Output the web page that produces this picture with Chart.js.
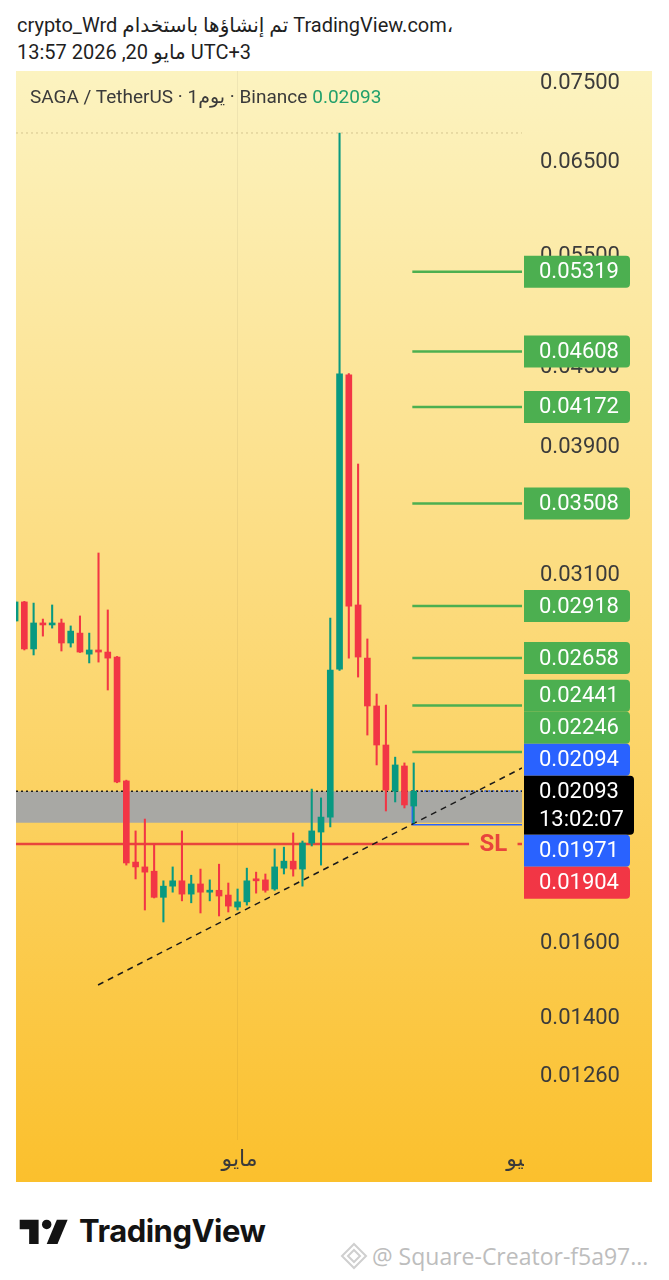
<!DOCTYPE html>
<html>
<head>
  <meta charset="utf-8">
  <title>SAGA / TetherUS</title>
  <script src="https://cdn.jsdelivr.net/npm/chart.js"></script>
  <style>
    body {
      margin: 0;
      width: 669px;
      height: 1280px;
      background: #fff;
      position: relative;
      overflow: hidden;
      font-family: Roboto, "DejaVu Sans", sans-serif;
    }
    .hdr {
      position: absolute;
      left: 17px;
      font-size: 20px;
      line-height: 24px;
      color: #1f1f1f;
      direction: ltr;
      white-space: nowrap;
    }
    #panel {
      position: absolute;
      left: 16px;
      top: 71px;
    }
    #legend {
      position: absolute;
      left: 30px;
      top: 86px;
      font-size: 19px;
      line-height: 22px;
      color: #3a3a3a;
      white-space: nowrap;
      direction: ltr;
      z-index: 2;
    }
    #legend .last { color: #22a06b; margin-left: 5px; }
    #brand {
      position: absolute;
      left: 19px;
      top: 1212px;
      display: flex;
      align-items: center;
    }
    #brand span {
      font-family: Inter, Roboto, sans-serif;
      font-weight: 700;
      font-size: 31px;
      letter-spacing: -0.5px;
      color: #131313;
      margin-left: 10px;
    }
    #wm {
      position: absolute;
      left: 340px;
      top: 1240px;
      display: flex;
      align-items: center;
      color: #bdbdbd;
      font-family: "Open Sans", sans-serif;
      font-size: 23px;
      white-space: nowrap;
    }
  </style>
</head>
<body>
  <div class="hdr" style="top:13px">crypto_Wrd تم إنشاؤها باستخدام TradingView.com،</div>
  <div class="hdr" style="top:40px">13:57 2026 ,20 مايو UTC+3</div>

  <canvas id="panel" width="636" height="1111"></canvas>
  <div id="legend">SAGA / TetherUS · 1يوم · Binance<span class="last">0.02093</span></div>

  <div id="brand">
    <svg width="50" height="27" viewBox="0 0 36 20">
      <path d="M14 20H7V9H0V2h14v18z" fill="#131313"/>
      <circle cx="20" cy="5.5" r="3.5" fill="#131313"/>
      <path d="M28 20h-8l7.5-18h8L28 20z" fill="#131313"/>
    </svg>
    <span>TradingView</span>
  </div>

  <div id="wm">
    <svg width="28" height="28" viewBox="0 0 28 28" style="margin-right:4px">
      <path d="M14 2 L26 14 L14 26 L2 14 Z" fill="none" stroke="#cfcfcf" stroke-width="2"/>
      <path d="M14 8 L20 14 L14 20 L8 14 Z" fill="none" stroke="#cfcfcf" stroke-width="2"/>
    </svg>
    <span>@ Square-Creator-f5a97...</span>
  </div>

  <script>
    // daily candles, index 0 = 7 Apr, index 24 = 1 May, index 43 = 20 May
    const opens = [
      0.02841, 0.02940, 0.02702, 0.02831, 0.02821, 0.02831, 0.02731, 0.02780, 0.02677, 0.02697,
      0.02687, 0.02663, 0.02132, 0.01843, 0.01827, 0.01813, 0.01730, 0.01765, 0.01782, 0.01740,
      0.01772, 0.01746, 0.01752, 0.01737, 0.01700, 0.01716, 0.01788, 0.01785, 0.01756, 0.01823,
      0.01846, 0.01820, 0.01907, 0.01945, 0.01998, 0.02606, 0.04419, 0.02924, 0.02658, 0.02439,
      0.02274, 0.02093, 0.02190, 0.02038
    ];
    const highs = [
      0.02946, 0.02943, 0.02934, 0.02851, 0.02924, 0.02851, 0.02816, 0.02867, 0.02780, 0.03210,
      0.02898, 0.02666, 0.02135, 0.01949, 0.01991, 0.01904, 0.01782, 0.01827, 0.01949, 0.01800,
      0.01820, 0.01785, 0.01836, 0.01775, 0.01756, 0.01823, 0.01810, 0.01804, 0.01887, 0.01893,
      0.01942, 0.01914, 0.02101, 0.02068, 0.02856, 0.06823, 0.04430, 0.03766, 0.02751, 0.02492,
      0.02443, 0.02225, 0.02202, 0.02202
    ];
    const lows = [
      0.02838, 0.02697, 0.02673, 0.02765, 0.02805, 0.02692, 0.02711, 0.02685, 0.02635, 0.02639,
      0.02510, 0.02125, 0.01833, 0.01788, 0.01691, 0.01728, 0.01655, 0.01746, 0.01719, 0.01713,
      0.01682, 0.01719, 0.01673, 0.01685, 0.01691, 0.01706, 0.01743, 0.01746, 0.01752, 0.01804,
      0.01797, 0.01765, 0.01897, 0.01833, 0.01963, 0.02600, 0.02658, 0.02569, 0.02315, 0.02194,
      0.02020, 0.02053, 0.02031, 0.01977
    ];
    const closes = [
      0.02940, 0.02702, 0.02831, 0.02821, 0.02831, 0.02731, 0.02790, 0.02687, 0.02697, 0.02687,
      0.02658, 0.02128, 0.01840, 0.01827, 0.01810, 0.01730, 0.01765, 0.01782, 0.01740, 0.01772,
      0.01746, 0.01752, 0.01734, 0.01703, 0.01716, 0.01782, 0.01782, 0.01752, 0.01827, 0.01846,
      0.01820, 0.01907, 0.01949, 0.01998, 0.02602, 0.04427, 0.02918, 0.02663, 0.02439, 0.02274,
      0.02097, 0.02194, 0.02042, 0.02093
    ];

    // price axis ticks (the ones between 0.031 and 0.016 are hidden behind the tags)
    const priceTicks = [0.075, 0.065, 0.055, 0.045, 0.039, 0.031, 0.016, 0.014, 0.0126];
    // month labels on the time axis
    const monthTicks = [24, 55];
    const monthLabels = ["مايو", "يونيو"];

    // drawn levels
    const targets = [0.05319, 0.04608, 0.04172, 0.03508, 0.02918, 0.02658, 0.02441, 0.02246];
    const lastPrice = 0.02093;
    const countdown = "13:02:07";
    const entry = 0.02094;
    const boxLow = 0.01971;
    const stopLoss = 0.01904;
    const zone = [0.01978, 0.02093];
    const spikeHigh = 0.06823;
    const trendFrom = [8.95, 0.01478];
    const trendTo = [54.68, 0.02182];
    const levelsStart = 42.85;

    const X_MIN = 0.1, X_MAX = 54.68;
    const Y_MIN = 0.01119, Y_MAX = 0.07626;
    const UP = "#089981", DOWN = "#f23645";
    const GREEN = "#4caf50", BLUE = "#2962ff", RED = "#f23645";

    const idx = opens.map((_, i) => i);
    const candleColors = idx.map(i => closes[i] >= opens[i] ? UP : DOWN);

    function hline(value, from, to) {
      return [{ x: from, y: value }, { x: to, y: value }];
    }

    const lineBase = { type: "line", pointRadius: 0, fill: false, tension: 0 };

    const datasets = [
      {
        type: "bar", label: "body", order: 0, grouped: false,
        data: idx.map(i => ({ x: i, y: [opens[i], closes[i]] })),
        backgroundColor: candleColors, barThickness: 6, minBarLength: 2
      },
      {
        type: "bar", label: "wick", order: 1, grouped: false,
        data: idx.map(i => ({ x: i, y: [lows[i], highs[i]] })),
        backgroundColor: candleColors, barThickness: 1.4
      },
      {
        ...lineBase, label: "trend", order: 2,
        data: [{ x: trendFrom[0], y: trendFrom[1] }, { x: trendTo[0], y: trendTo[1] }],
        borderColor: "#1a1a1a", borderWidth: 1.5, borderDash: [6, 5]
      },
      {
        ...lineBase, label: "last", order: 3,
        data: hline(lastPrice, X_MIN, X_MAX),
        borderColor: "#1a1a1a", borderWidth: 1.5, borderDash: [2, 3]
      },
      {
        ...lineBase, label: "SL", order: 4,
        data: [
          { x: X_MIN, y: stopLoss }, { x: 48.97, y: stopLoss }, { x: 49, y: null },
          { x: 54.2, y: stopLoss }, { x: X_MAX, y: stopLoss }
        ],
        borderColor: "#e8453c", borderWidth: 2.5, spanGaps: false
      },
      {
        ...lineBase, label: "box", order: 5,
        data: [{ x: levelsStart, y: entry }, { x: levelsStart, y: boxLow }, { x: X_MAX, y: boxLow }],
        borderColor: BLUE, borderWidth: 1.5
      },
      {
        ...lineBase, label: "boxTop", order: 5,
        data: hline(entry, levelsStart, X_MAX),
        borderColor: BLUE, borderWidth: 1.5, borderDash: [2, 2]
      },
      ...targets.map(t => ({
        ...lineBase, label: "target", order: 6,
        data: hline(t, levelsStart, X_MAX),
        borderColor: GREEN, borderWidth: 2.5
      })),
      {
        ...lineBase, label: "high", order: 7,
        data: hline(spikeHigh, X_MIN, X_MAX),
        borderColor: "rgba(140,120,70,0.35)", borderWidth: 1, borderDash: [2, 3]
      },
      {
        ...lineBase, label: "zone", order: 9,
        data: hline(zone[0], X_MIN, X_MAX),
        fill: { value: zone[1] },
        backgroundColor: "#a8a8a4", borderWidth: 0
      }
    ];

    const background = {
      id: "background",
      beforeDraw(chart) {
        const { ctx, width, height } = chart;
        const g = ctx.createLinearGradient(0, 0, 0, height);
        g.addColorStop(0, "#fcf3c0");
        g.addColorStop(0.45, "#fcdc80");
        g.addColorStop(1, "#fbc02d");
        ctx.save();
        ctx.fillStyle = g;
        ctx.fillRect(0, 0, width, height);
        ctx.restore();
      }
    };

    const timeLabels = {
      id: "timeLabels",
      afterDraw(chart) {
        const { ctx, chartArea, scales: { x } } = chart;
        ctx.save();
        ctx.beginPath();
        ctx.rect(0, chartArea.bottom, chartArea.right + 2, chart.height - chartArea.bottom);
        ctx.clip();
        ctx.fillStyle = "#3a3a3a";
        ctx.font = "22px 'DejaVu Sans', sans-serif";
        ctx.textAlign = "center";
        ctx.textBaseline = "middle";
        monthTicks.forEach((v, i) => {
          ctx.fillText(monthLabels[i], x.getPixelForValue(v) + 2, chartArea.bottom + 20);
        });
        ctx.restore();
      }
    };

    const slText = {
      id: "slText",
      afterDatasetsDraw(chart) {
        const { ctx, scales: { x, y } } = chart;
        ctx.save();
        ctx.fillStyle = "#e8453c";
        ctx.font = "bold 24px Roboto, sans-serif";
        ctx.textAlign = "center";
        ctx.textBaseline = "middle";
        ctx.fillText("SL", x.getPixelForValue(51.6), y.getPixelForValue(stopLoss) + 1);
        ctx.restore();
      }
    };

    // price tags on the right axis, pushed apart like TradingView does
    const tags = [
      ...targets.map(v => ({ value: v, text: v.toFixed(5), color: GREEN })),
      { value: entry, text: entry.toFixed(5), color: BLUE },
      { value: lastPrice, text: lastPrice.toFixed(5), sub: countdown, color: "#000" },
      { value: boxLow, text: boxLow.toFixed(5), color: BLUE },
      { value: stopLoss, text: stopLoss.toFixed(5), color: RED }
    ];

    const priceTags = {
      id: "priceTags",
      afterDraw(chart) {
        const { ctx, chartArea, scales: { y } } = chart;
        const H = 32, HB = 59;
        let groups = tags
          .map(t => {
            const h = t.sub ? HB : H;
            const top = y.getPixelForValue(t.value) - H / 2;
            return { items: [{ t, h, want: top + h / 2 }], top, h };
          })
          .sort((a, b) => a.top - b.top);

        let merged = true;
        while (merged) {
          merged = false;
          for (let i = 0; i < groups.length - 1; i++) {
            const a = groups[i], b = groups[i + 1];
            if (a.top + a.h > b.top) {
              const items = a.items.concat(b.items);
              const h = a.h + b.h;
              const c = items.reduce((s, it) => s + it.want * it.h, 0) / h;
              groups.splice(i, 2, { items, top: c - h / 2, h });
              merged = true;
              break;
            }
          }
        }

        const left = chartArea.right + 2;
        ctx.save();
        ctx.font = "22px Roboto, sans-serif";
        ctx.textBaseline = "middle";
        ctx.textAlign = "left";
        groups.forEach(g => {
          let top = g.top;
          g.items.forEach(it => {
            const w = it.t.sub ? 110 : 106;
            ctx.fillStyle = it.t.color;
            ctx.beginPath();
            ctx.roundRect(left, top, w, it.h, [0, 4, 4, 0]);
            ctx.fill();
            ctx.fillStyle = "#ffffff";
            ctx.fillText(it.t.text, left + 15, top + 17);
            if (it.t.sub) ctx.fillText(it.t.sub, left + 15, top + 45);
            top += it.h;
          });
        });
        ctx.restore();
      }
    };

    new Chart(document.getElementById("panel"), {
      type: "bar",
      data: { datasets },
      options: {
        responsive: false,
        animation: false,
        events: [],
        layout: { padding: 0 },
        plugins: {
          legend: { display: false },
          tooltip: { enabled: false }
        },
        scales: {
          x: {
            type: "linear",
            min: X_MIN,
            max: X_MAX,
            offset: false,
            border: { display: false },
            grid: {
              offset: false,
              drawTicks: false,
              color: ctx => (ctx.tick && ctx.tick.value > X_MIN && ctx.tick.value < X_MAX) ? "rgba(0,0,0,0.05)" : "transparent"
            },
            ticks: { display: false },
            afterBuildTicks: s => { s.ticks = monthTicks.map(v => ({ value: v })); },
            afterFit: s => { s.height = 42; s.paddingLeft = 0; s.paddingRight = 0; }
          },
          y: {
            type: "logarithmic",
            position: "right",
            min: Y_MIN,
            max: Y_MAX,
            beginAtZero: false,
            border: { display: false },
            grid: { display: false, drawTicks: false },
            ticks: {
              padding: 18,
              labelOffset: 3,
              color: "#3b3b3b",
              font: { family: "Roboto", size: 22 },
              autoSkip: false,
              callback: v => Number(v).toFixed(5)
            },
            afterBuildTicks: s => { s.ticks = priceTicks.map(v => ({ value: v })); },
            afterFit: s => { s.width = 130; s.paddingTop = 0; s.paddingBottom = 0; }
          }
        }
      },
      plugins: [background, slText, priceTags, timeLabels]
    });
  </script>
</body>
</html>
